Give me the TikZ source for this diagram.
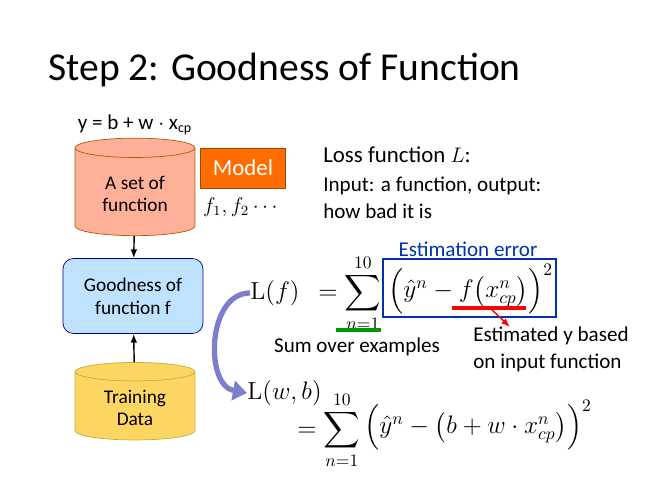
\documentclass[tikz,border=0pt]{standalone}
\usepackage{amsmath}
\usepackage{fontspec}
\setmainfont{Carlito}
\newfontfamily\lmr{Latin Modern Roman}
\usetikzlibrary{positioning}
\usetikzlibrary{arrows.meta}
\usetikzlibrary{shapes.geometric}
\begin{document}
\begin{tikzpicture}[
    x=0.02cm, y=-0.02cm,
    db/.style={cylinder, shape border rotate=90, aspect=0.25, draw=#1!70!black, minimum width=2.4cm, align=center, font=\fontsize{11}{13}\selectfont},
    txt/.style={align=left, inner sep=0pt, font=\fontsize{12}{15}\selectfont},
    eq/.style={inner sep=0pt, font=\fontsize{14}{17}\selectfont}
]
    \useasboundingbox (0,0) rectangle (647,483);
    % title
    \node[anchor=west, inner sep=0pt, font=\fontsize{22.5}{26}\selectfont] (title) at (48,70) {Step 2: Goodness of Function};
    \node[txt] (model) at (135,125) {y = b + w $\cdot$ x\textsubscript{cp}};

    % left column
    \node[db=orange, fill=orange!45!red!40, minimum height=1.95cm] (set) at (135,194) {A set of\\function};
    \node[draw=blue!60!black, fill=blue!45!cyan!25, rounded corners=6pt, minimum width=2.8cm, minimum height=1.5cm, align=center, font=\fontsize{11}{13}\selectfont] (good) at (133,296) {Goodness of\\function f};
    \node[db=yellow, fill=yellow!50!orange!60, minimum height=1.55cm] (data) at (135,408) {Training\\Data};
    \draw[-{Latex[length=5pt]}, thick] (set) -- (good);
    \draw[-{Latex[length=5pt]}, thick] (data) -- (good);

    \node[fill=orange!85!red, draw=orange!60!black, text=white, minimum width=1.7cm, minimum height=0.8cm, font=\fontsize{13}{15}\selectfont] (mbox) at (243,168) {Model};
    \node[txt, font=\fontsize{12}{14}\selectfont] (fs) at (242,207) {$f_1, f_2 \cdots$};

    % loss function text
    \node[txt, anchor=west, font=\fontsize{13}{15}\selectfont] (loss) at (323,155) {Loss function $L$:};
    \node[txt, anchor=north west] (input) at (323,177) {Input: a function, output:\\how bad it is};

    % first formula
    \node[eq, anchor=west] (lf) at (250,293) {{\lmr L}$(f)$};
    \node[eq, anchor=west] (sum1) at (318,293) {$=\displaystyle\sum_{n=1}^{10}$};
    \node[eq, anchor=west] (err) at (388,289) {$\Big(\hat{y}^n - f\big(x^n_{cp}\big)\Big)^2$};
    \draw[blue!60!black!80!cyan, line width=1.6pt] (383,259) rectangle (556,317);
    \node[text=blue!60!black!80!cyan, inner sep=0pt, font=\fontsize{12}{14}\selectfont] (esterr) at (468,249) {Estimation error};
    \coordinate (g1) at (336,330); \coordinate (g2) at (381,330);
    \draw[green!60!black, line width=2pt] (g1) -- (g2);
    \coordinate (r1) at (452,308); \coordinate (r2) at (526,308); \coordinate (rm) at (490,308);
    \draw[red, line width=2pt] (r1) -- (r2);
    \node[txt, anchor=north west] (esty) at (473,327) {Estimated y based\\on input function};
    \draw[red, thick, -{Latex[length=5pt]}] (rm) -- (esty.north -| 510,0);
    \node[txt] (sumex) at (357,347) {Sum over examples};

    % second formula
    \node[eq, anchor=west] (lwb) at (247,393) {{\lmr L}$(w,b)$};
    \node[eq, anchor=west] (sum2) at (297,430) {$=\displaystyle\sum_{n=1}^{10}$};
    \node[eq, anchor=west] (err2) at (364,425) {$\Big(\hat{y}^n - \big(b + w\cdot x^n_{cp}\big)\Big)^2$};
    \draw[-{Triangle[length=8pt,width=11pt]}, line width=3pt, blue!45!gray!70] (lf.west) to[out=180, in=170, looseness=1.1] (lwb.west);
\end{tikzpicture}
\end{document}
